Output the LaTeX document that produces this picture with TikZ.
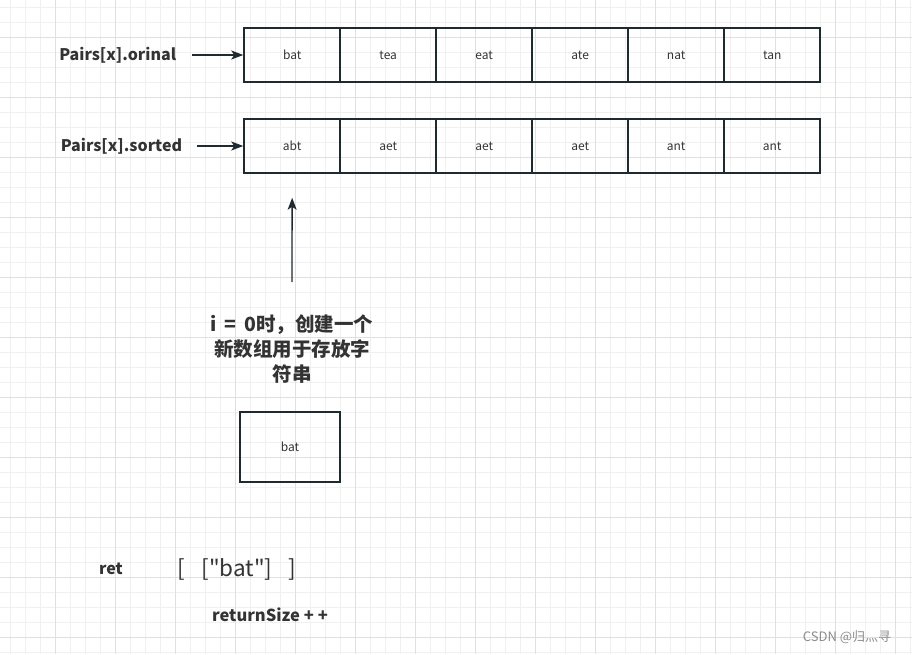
\documentclass[tikz,border=0pt]{standalone}
\usepackage{fontspec}
\setmainfont{Noto Sans CJK SC}
\newfontfamily\plainfont{Noto Sans CJK SC}
\usetikzlibrary{arrows.meta, positioning, matrix}

\definecolor{boxline}{HTML}{1F2A30}
\definecolor{txt}{HTML}{333333}
\definecolor{gridminor}{HTML}{F0F0F0}
\definecolor{gridmajor}{HTML}{E0E0E0}

\begin{document}
\begin{tikzpicture}[x=1pt, y=-1pt,
    cell/.style={draw=boxline, line width=1.5pt, minimum width=96pt, minimum height=54pt,
        inner sep=0pt, anchor=center, text=txt, font=\fontsize{12}{14}\selectfont},
    heading/.style={inner sep=0pt, text=txt, font=\bfseries\fontsize{16}{19}\selectfont},
    note/.style={inner sep=0pt, align=center, text=txt, font=\bfseries\fontsize{19.5}{25}\selectfont},
    arr/.style={draw=boxline, line width=1.3pt, -{Stealth[length=12pt, width=9pt, inset=3pt]}}]
    \useasboundingbox (0,0) rectangle (912,654);
    % grid paper
    \foreach \gx in {10,25,...,910} \draw[gridminor, line width=0.8pt] (\gx,0) -- (\gx,654);
    \foreach \gy in {7,22,...,652} \draw[gridminor, line width=0.8pt] (0,\gy) -- (912,\gy);
    \foreach \gx in {55,115,...,895} \draw[gridmajor, line width=0.8pt] (\gx,0) -- (\gx,654);
    \foreach \gy in {37,97,...,637} \draw[gridmajor, line width=0.8pt] (0,\gy) -- (912,\gy);

    % the two rows of strings
    \matrix[matrix of nodes, inner sep=0pt, nodes={cell}, column sep=-1.5pt,
        anchor=west, ampersand replacement=\&] (orig) at (243.25,55) {
        bat \& tea \& eat \& ate \& nat \& tan \\
    };
    \matrix[matrix of nodes, inner sep=0pt, nodes={cell}, column sep=-1.5pt,
        anchor=west, ampersand replacement=\&] (sorted) at (243.25,146) {
        abt \& aet \& aet \& aet \& ant \& ant \\
    };
    \node[heading, left=67pt of orig] (origname) {Pairs[x].orinal};
    \node[heading, left=61pt of sorted] (sortedname) {Pairs[x].sorted};
    \draw[arr, shorten <=16pt] (origname.east) -- (orig.west);
    \draw[arr, shorten <=15pt] (sortedname.east) -- (sorted.west);

    % first string goes into a new array
    \coordinate (tail) at (292,282);
    \draw[arr, shorten >=24pt] (tail) -- (sorted-1-1.south);
    \node[note] (note) at (292,349) {i\hspace{8pt}=\hspace{8pt}0时，创建一个\\新数组用于存放字\\符串};
    \node[cell, minimum width=100pt, minimum height=70pt] (newarr) at (290,447) {bat};

    \node[heading] (ret) at (111,569) {ret};
    \node[inner sep=0pt, text=txt, font=\plainfont\fontsize{22.5}{26}\selectfont] (retval) at (237,569)
        {[\hspace{16pt}["bat"]\hspace{16pt}]};
    \node[heading, font=\bfseries\fontsize{16.5}{19}\selectfont] (size) at (270,615) {returnSize +\hspace{4pt}+};
    \node[inner sep=0pt, text=black!45, font=\fontsize{13}{15}\selectfont] (mark) at (847,637) {CSDN @归灬寻};
\end{tikzpicture}
\end{document}
